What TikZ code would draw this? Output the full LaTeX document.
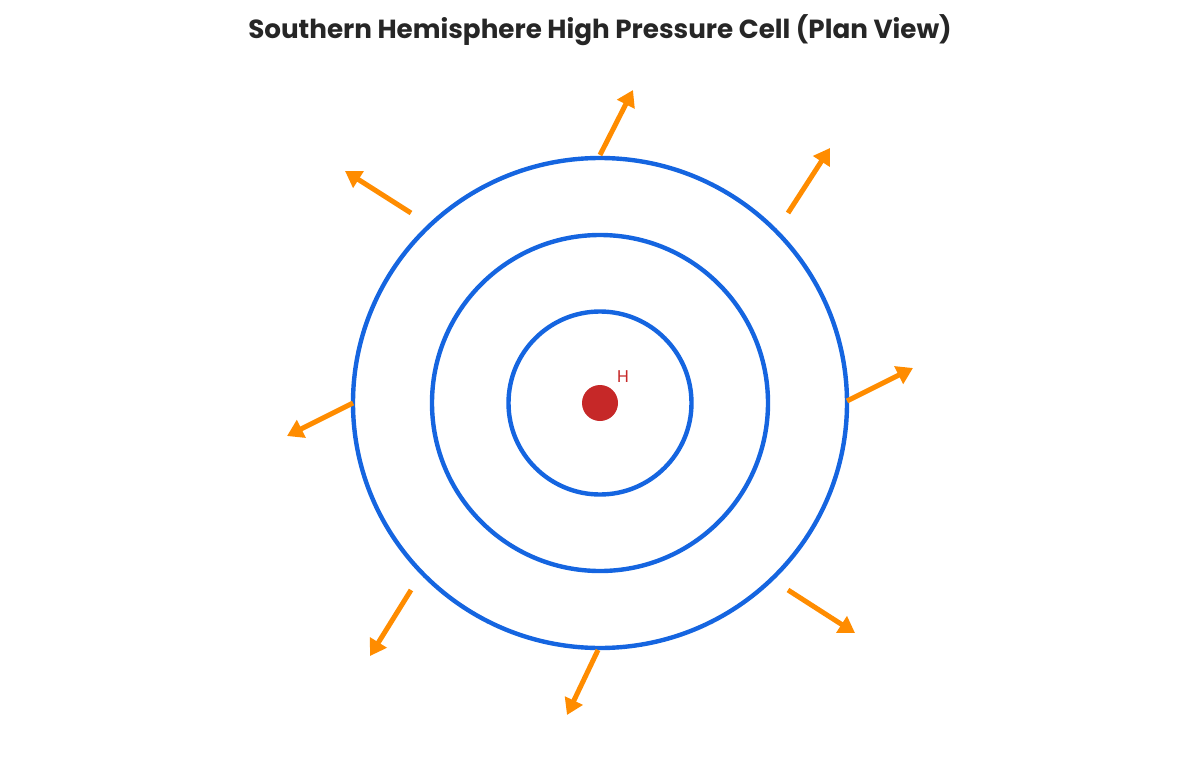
\documentclass[tikz,border=0pt]{standalone}
\usepackage{fontspec}
\setmainfont{Poppins}
\usetikzlibrary{arrows.meta}
\definecolor{iso}{HTML}{1565E0}
\definecolor{wind}{HTML}{FF8C00}
\definecolor{hred}{HTML}{C62828}
\tikzset{isobar/.style={draw=iso,line width=4.4pt},
windarrow/.style={draw=wind,line width=5pt,-{Triangle[length=16pt,width=19pt]}}}
\begin{document}
\begin{tikzpicture}[x=1pt,y=-1pt]
\useasboundingbox (0,0) rectangle (1200,763);
\node[font=\bfseries\fontsize{26.2}{30}\selectfont,text=black!85] (title) at (600,30) {Southern Hemisphere High Pressure Cell (Plan View)};
\draw[isobar] (600,403) ellipse (247 and 245);
\draw[isobar] (600,403) circle (168);
\draw[isobar] (600,403) circle (91.5);
\node[circle,fill=hred,minimum size=36pt,inner sep=0] (H) at (600,403) {};
\node[text=hred,font=\fontsize{17}{19}\selectfont] (hl) at (623,377) {H};
\foreach \a/\b/\c/\d [count=\i] in {600/155/633/90, 788/213/830/148, 847/401/913/368, 788/590/855/633, 598/650/567/715, 411/590/370/656, 353/403/287/436, 411/213/345/171}{
  \coordinate (s\i) at (\a,\b); \coordinate (e\i) at (\c,\d);
  \draw[windarrow] (s\i) -- (e\i);
}
\end{tikzpicture}
\end{document}
